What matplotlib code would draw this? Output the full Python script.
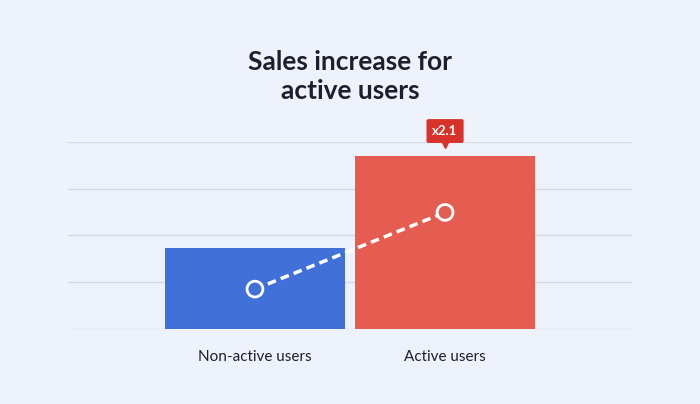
import matplotlib.pyplot as plt

categories = ["Non-active users", "Active users"]
sales = [1.72, 3.70]
trend = [0.85, 2.49]
bar_colors = ["#4170d9", "#e55c50"]
badge_text = "x2.1"

bg = "#eef2fb"
fig = plt.figure(figsize=(7, 4.04), dpi=100, facecolor=bg)
ax = fig.add_axes([0.097, 0.186, 0.806, 0.463], facecolor=bg)

x = list(range(len(categories)))
ax.bar(x, sales, width=0.947, color=bar_colors, zorder=2)
ax.plot(x, trend, color="white", lw=2.5, ls=(0, (2.5, 1.5)), zorder=3)
ax.scatter(x, trend, s=130, facecolor=bar_colors, edgecolor="white", linewidth=2, zorder=4)

ax.set_xlim(-0.984, 1.984)
ax.set_ylim(0, 4)
ax.set_yticks([0, 1, 2, 3, 4])
ax.yaxis.grid(True, color="#d3d9e6", lw=1, zorder=0)
ax.tick_params(left=False, bottom=False, labelleft=False)
ax.set_xticks(x)
ax.set_xticklabels(categories, fontsize=11, color="#1d1f2b", family="Lato")
ax.tick_params(axis="x", pad=12)
for s in ax.spines.values():
    s.set_visible(False)

ax.annotate(badge_text, xy=(1, 3.86), xytext=(1, 4.23), ha="center", va="center",
            fontsize=9.5, fontweight="bold", color="white", family="Lato",
            bbox=dict(boxstyle="round,pad=0.45,rounding_size=0.15", fc="#d8332b", ec="none"),
            annotation_clip=False)
ax.plot([1], [3.98], marker="v", ms=7, color="#d8332b", clip_on=False, zorder=5)

fig.text(0.5, 0.81, "Sales increase for\nactive users", ha="center", va="center",
         fontsize=19, fontweight="bold", color="#1d1f2b", family="Lato", linespacing=1.25)

fig.savefig("out.png", dpi=100, facecolor=bg)
